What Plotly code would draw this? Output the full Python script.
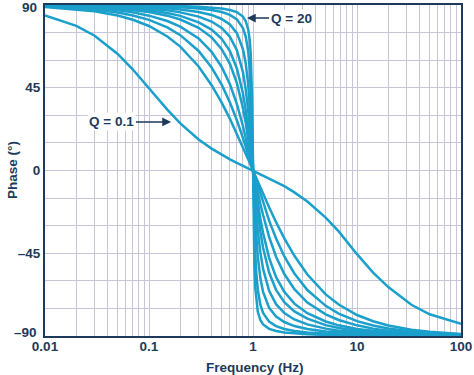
import plotly.graph_objects as go
import math

# ---- data ----
freqs = [0.01, 0.02, 0.03, 0.05, 0.07, 0.1, 0.15, 0.2, 0.3, 0.4, 0.5, 0.6, 0.7, 0.8, 0.85,
         0.9, 0.93, 0.95, 0.97, 0.98, 0.99, 1.0, 1.0101, 1.0204, 1.0309, 1.0526, 1.0753,
         1.1111, 1.1765, 1.25, 1.4286, 1.6667, 2.0, 2.5, 3.3333, 5.0, 6.6667, 10.0, 14.286,
         20.0, 33.333, 50.0, 100.0]

phase_q0_1 = [84.3, 78.7, 73.3, 63.4, 54.9, 44.7, 33.1, 25.6, 16.9, 11.9, 8.5, 6.1, 4.2, 2.6, 1.9,
              1.2, 0.8, 0.6, 0.4, 0.2, 0.1, 0.0, -0.1, -0.2, -0.4, -0.6, -0.8,
              -1.2, -1.9, -2.6, -4.2, -6.1, -8.5, -11.9, -16.9, -25.6, -33.1, -45.5, -55.5,
              -63.4, -73.0, -78.2, -83.3]
phase_q0_5 = [88.9, 87.7, 86.6, 84.3, 82.0, 78.6, 72.9, 67.4, 56.6, 46.4, 36.9, 28.1, 20.0, 12.7, 9.3,
              6.0, 4.2, 2.9, 1.7, 1.2, 0.6, 0.0, -0.6, -1.2, -1.7, -2.9, -4.2,
              -6.0, -9.3, -12.7, -20.0, -28.1, -36.9, -46.4, -56.6, -67.4, -72.9, -78.6, -82.0,
              -84.3, -86.6, -87.7, -88.9]
phase_q0_707 = [89.2, 88.4, 87.6, 85.9, 84.3, 81.9, 77.8, 73.6, 65.0, 56.0, 46.7, 37.0, 27.3, 17.7, 13.0,
                8.5, 5.9, 4.2, 2.5, 1.6, 0.8, 0.0, -0.8, -1.6, -2.5, -4.2, -5.9,
                -8.5, -13.0, -17.7, -27.3, -37.0, -46.7, -56.0, -65.0, -73.6, -77.8, -81.9, -84.3,
                -85.9, -87.6, -88.4, -89.2]
phase_q1 = [89.4, 88.9, 88.3, 87.1, 86.0, 84.2, 81.3, 78.2, 71.8, 64.5, 56.3, 46.9, 36.1, 24.2, 18.1,
            11.9, 8.3, 5.9, 3.5, 2.3, 1.2, 0.0, -1.2, -2.3, -3.5, -5.9, -8.3,
            -11.9, -18.1, -24.2, -36.1, -46.9, -56.3, -64.5, -71.8, -78.2, -81.3, -84.2, -86.0,
            -87.1, -88.3, -88.9, -89.4]
phase_q1_5 = [89.6, 89.2, 88.9, 88.1, 87.3, 86.2, 84.2, 82.1, 77.6, 72.4, 66.0, 58.0, 47.5, 34.0, 26.1,
              17.6, 12.3, 8.8, 5.2, 3.5, 1.7, 0.0, -1.7, -3.5, -5.2, -8.8, -12.3,
              -17.6, -26.1, -34.0, -47.5, -58.0, -66.0, -72.4, -77.6, -82.1, -84.2, -86.2, -87.3,
              -88.1, -88.9, -89.2, -89.6]
phase_q2 = [89.7, 89.4, 89.1, 88.6, 88.0, 87.1, 85.6, 84.1, 80.6, 76.6, 71.6, 64.9, 55.5, 42.0, 33.1,
            22.9, 16.2, 11.6, 6.9, 4.6, 2.3, 0.0, -2.3, -4.6, -6.9, -11.6, -16.2,
            -22.9, -33.1, -42.0, -55.5, -64.9, -71.6, -76.6, -80.6, -84.1, -85.6, -87.1, -88.0,
            -88.6, -89.1, -89.4, -89.7]
phase_q3 = [89.8, 89.6, 89.4, 89.0, 88.7, 88.1, 87.1, 86.0, 83.7, 81.0, 77.5, 72.7, 65.4, 53.5, 44.4,
            32.4, 23.6, 17.1, 10.4, 6.9, 3.5, 0.0, -3.5, -6.9, -10.4, -17.1, -23.6,
            -32.4, -44.4, -53.5, -65.4, -72.7, -77.5, -81.0, -83.7, -86.0, -87.1, -88.1, -88.7,
            -89.0, -89.4, -89.6, -89.8]
phase_q5 = [89.9, 89.8, 89.7, 89.4, 89.2, 88.8, 88.2, 87.6, 86.2, 84.6, 82.4, 79.4, 74.7, 66.0, 58.5,
            46.6, 36.0, 27.2, 16.9, 11.4, 5.7, 0.0, -5.7, -11.4, -16.9, -27.2, -36.0,
            -46.6, -58.5, -66.0, -74.7, -79.4, -82.4, -84.6, -86.2, -87.6, -88.2, -88.8, -89.2,
            -89.4, -89.7, -89.8, -89.9]
phase_q10 = [89.9, 89.9, 89.8, 89.7, 89.6, 89.4, 89.1, 88.8, 88.1, 87.3, 86.2, 84.6, 82.2, 77.5, 73.0,
             64.7, 55.5, 45.7, 31.3, 22.0, 11.4, 0.0, -11.4, -22.0, -31.3, -45.7, -55.5,
             -64.7, -73.0, -77.5, -82.2, -84.6, -86.2, -87.3, -88.1, -88.8, -89.1, -89.4, -89.6,
             -89.7, -89.8, -89.9, -89.9]
phase_q20 = [90.0, 89.9, 89.9, 89.9, 89.8, 89.7, 89.6, 89.4, 89.1, 88.6, 88.1, 87.3, 86.1, 83.7, 81.3,
             76.7, 71.0, 64.0, 50.6, 38.9, 21.9, 0.0, -21.9, -38.9, -50.6, -64.0, -71.0,
             -76.7, -81.3, -83.7, -86.1, -87.3, -88.1, -88.6, -89.1, -89.4, -89.6, -89.7, -89.8,
             -89.9, -89.9, -89.9, -90.0]

series = [phase_q0_1, phase_q0_5, phase_q0_707, phase_q1, phase_q1_5,
          phase_q2, phase_q3, phase_q5, phase_q10, phase_q20]

x_grid = [m * 10 ** e for e in (-2, -1, 0, 1) for m in range(1, 10)] + [100]
x_labels = {0.01: "0.01", 0.1: "0.1", 1: "1", 10: "10", 100: "100"}
y_grid = list(range(-90, 91, 15))
y_labels = {-90: "–90", -45: "–45", 0: "0", 45: "45", 90: "90"}
y_edge_labels = [-90, 90]   # drawn as annotations so they can sit inside the page

# ---- styling ----
LINE = "#1b9fcb"
NAVY = "#1d3a5c"
GRID = "#c6c6d6"
FONT = "Liberation Sans"
W, H = 474, 375
ML, MR, MT, MB = 45, 13, 5, 39
PW, PH = W - ML - MR, H - MT - MB

fig = go.Figure()
for vals in series:
    fig.add_trace(go.Scatter(x=freqs, y=vals, mode="lines",
                             line=dict(color=LINE, width=2.5),
                             showlegend=False, hoverinfo="skip", cliponaxis=True))

x_text = []
for v in x_grid:
    lab = ""
    for k, t in x_labels.items():
        if abs(v - k) < 1e-9 * max(1, k):
            lab = t
    x_text.append(lab)
y_text = ["" if v in y_edge_labels else y_labels.get(v, "") for v in y_grid]

tickfont = dict(family=FONT, size=13.5, color=NAVY, weight="bold")
fig.update_xaxes(type="log", range=[-2, 2], tickvals=x_grid, ticktext=x_text,
                 showgrid=True, gridcolor=GRID, gridwidth=1,
                 showline=True, linecolor=NAVY, linewidth=2, mirror=True,
                 ticks="", zeroline=False, automargin=False, tickfont=tickfont,
                 ticklabeloverflow="allow", ticklabelstandoff=-3)
fig.update_yaxes(range=[-90, 90], tickvals=y_grid, ticktext=y_text,
                 showgrid=True, gridcolor=GRID, gridwidth=1,
                 showline=True, linecolor=NAVY, linewidth=2, mirror=True,
                 ticks="", zeroline=False, automargin=False, tickfont=tickfont,
                 ticklabeloverflow="allow")

for v in y_edge_labels:
    fig.add_annotation(xref="paper", yref="y", x=(39 - ML) / PW, y=v,
                       xanchor="right", yanchor="middle", showarrow=False,
                       yshift=4 if v < 0 else -2,
                       text=y_labels[v], font=tickfont)

# axis titles
fig.add_annotation(xref="paper", yref="paper", x=(255 - ML) / PW, y=(H - MB - 367.5) / PH,
                   xanchor="center", yanchor="middle", showarrow=False,
                   text="Frequency (Hz)", font=tickfont)
fig.add_annotation(xref="paper", yref="paper", x=(12 - ML) / PW, y=(H - MB - 170) / PH,
                   xanchor="center", yanchor="middle", showarrow=False, textangle=-90,
                   text="Phase (°)", font=tickfont)

fig.add_annotation(x=math.log10(0.875), y=82.9, xref="x", yref="y",
                   ax=math.log10(2.32), ay=82.9, axref="x", ayref="y",
                   text="Q = 20", showarrow=True, arrowhead=2, arrowsize=1.1,
                   arrowwidth=1.6, arrowcolor=NAVY, bgcolor="white", borderpad=1,
                   font=tickfont)
fig.add_annotation(x=math.log10(0.163), y=26.4, xref="x", yref="y",
                   ax=math.log10(0.044), ay=26.4, axref="x", ayref="y",
                   text="Q = 0.1", showarrow=True, arrowhead=2, arrowsize=1.1,
                   arrowwidth=1.6, arrowcolor=NAVY, bgcolor="white", borderpad=1,
                   font=tickfont)

fig.update_layout(width=W, height=H, margin=dict(l=ML, r=MR, t=MT, b=MB, autoexpand=False),
                  paper_bgcolor="white", plot_bgcolor="white")
fig.write_html("out.html", config={"displayModeBar": False},
               post_script="document.body.style.margin='0px';document.body.style.overflow='hidden';")
